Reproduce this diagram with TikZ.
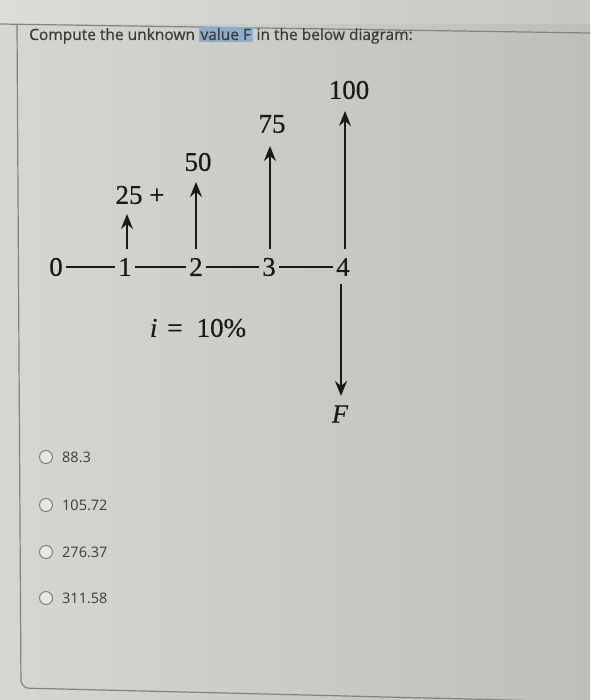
\documentclass[tikz,border=0pt]{standalone}
\usepackage{fontspec}
\setmainfont[FakeBold=0.5]{Liberation Serif}
\newfontfamily\uifont{Open Sans}
\newfontfamily\uititle[FakeBold=0.8]{Open Sans}
\usetikzlibrary{arrows.meta}
\definecolor{bgl}{RGB}{214,214,210}
\definecolor{bgr}{RGB}{190,190,186}
\definecolor{framec}{RGB}{130,130,128}
\definecolor{hilite}{RGB}{142,172,206}
\definecolor{uitext}{RGB}{60,60,60}
\definecolor{ink}{RGB}{25,25,25}
\begin{document}
\begin{tikzpicture}[x=1pt,y=-1pt,
  num/.style={font=\fontsize{27}{27}\selectfont, inner sep=0pt, text=ink},
  tl/.style={line width=1.4pt, draw=ink},
  upar/.style={line width=2pt, draw=ink, -{Stealth[length=15pt,width=12pt,inset=5pt]}, shorten <=9pt},
  downar/.style={line width=2pt, draw=ink, -{Stealth[length=15pt,width=12pt,inset=5pt]}, shorten <=8pt},
  radio/.style={circle, draw=framec, fill=bgl!60!white, line width=1pt, minimum size=13pt, inner sep=0pt},
  opt/.style={font=\uifont\fontsize{14.5}{14.5}\selectfont, text=uitext, anchor=west, inner sep=0pt},
  frame/.style={draw=framec, line width=1.2pt}
]
\useasboundingbox (0,0) rectangle (590,700);
\shade[left color=bgl, right color=bgr] (0,0) rectangle (590,700);
\fill[white, opacity=0.15] (0,0) rectangle (590,24);
% frame
\draw[frame] (0,24) -- (590,33);
\draw[frame, rounded corners=8pt] (17,25) -- (21,688) -- (590,702);
% title
\node[font=\uititle\fontsize{15.5}{15.5}\selectfont, text=uitext, anchor=base west, inner sep=0pt] (title) at (29,40)
  {Compute the unknown {\setlength{\fboxsep}{1.5pt}\colorbox{hilite}{value F}} in the below diagram:};
% timeline
\node[num] (t0) at (56,267) {0};
\node[num] (t1) at (125,267) {1};
\node[num] (t2) at (196,267) {2};
\node[num] (t3) at (269,267) {3};
\node[num] (t4) at (343,267) {4};
\draw[tl, shorten <=3pt, shorten >=3pt] (t0) -- (t1);
\draw[tl, shorten <=3pt, shorten >=3pt] (t1) -- (t2);
\draw[tl, shorten <=3pt, shorten >=3pt] (t2) -- (t3);
\draw[tl, shorten <=3pt, shorten >=3pt] (t3) -- (t4);
% up arrows
\coordinate (a1) at (127,214);
\coordinate (a2) at (196,182);
\coordinate (a3) at (270,146);
\coordinate (a4) at (345,111);
\draw[upar] (t1.north -| a1) -- (a1);
\draw[upar] (t2.north -| a2) -- (a2);
\draw[upar] (t3.north -| a3) -- (a3);
\draw[upar] (t4.north -| a4) -- (a4);
\node[num] (l1) at (140,195) {25 +};
\node[num] (l2) at (198,162) {50};
\node[num] (l3) at (272,124) {75};
\node[num] (l4) at (349,90) {100};
% down arrow
\coordinate (d4) at (341,396);
\draw[downar] (t4.south -| d4) -- (d4);
\node[num, font=\itshape\fontsize{26}{26}\selectfont] (F) at (340,414) {F};
% interest
\node[num] (rate) at (198,328) {\textit{i}\hspace{10pt}=\hspace{14pt}10\%};
% options
\node[radio] (r1) at (46,457) {};
\node[radio] (r2) at (46,505) {};
\node[radio] (r3) at (46,552) {};
\node[radio] (r4) at (46,598) {};
\node[opt] (o1) at (62,457) {88.3};
\node[opt] (o2) at (62,505) {105.72};
\node[opt] (o3) at (62,552) {276.37};
\node[opt] (o4) at (62,598) {311.58};
\end{tikzpicture}
\end{document}
